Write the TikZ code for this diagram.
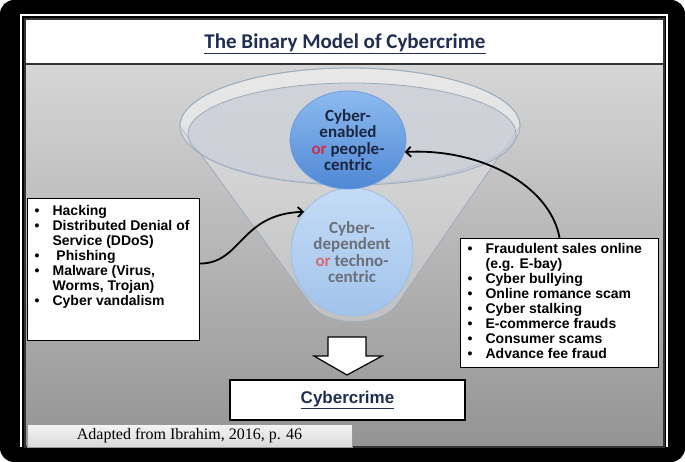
\documentclass[tikz,border=0pt]{standalone}
\usepackage{fontspec}
\setmainfont{Liberation Sans}
\newfontfamily\calibrifont{Carlito}
\newfontfamily\timesfont{Liberation Serif}
\usetikzlibrary{arrows.meta,shapes.geometric}

\definecolor{titleblue}{HTML}{1F2F52}
\definecolor{textnavy}{HTML}{1B2640}
\definecolor{textgrey}{HTML}{6A6F78}
\definecolor{orred}{HTML}{C8324E}
\definecolor{orpink}{HTML}{D46A7A}
\definecolor{funnelline}{HTML}{9AACBF}
\definecolor{openfill}{HTML}{C6CAD4}
\definecolor{deeptop}{HTML}{8DBBEF}
\definecolor{deepbottom}{HTML}{4F88D5}
\definecolor{deepline}{HTML}{6E9EDB}
\definecolor{palebtop}{HTML}{C4DCF6}
\definecolor{palebottom}{HTML}{A2C3EB}
\definecolor{paleline}{HTML}{9DBDE5}

\tikzset{
  listbox/.style={draw=black, line width=1.2pt, fill=white, inner xsep=7pt, anchor=north west,
    font=\bfseries\fontsize{14}{15}\selectfont},
  bubble/.style={ellipse, inner sep=0pt, align=center, line width=0.8pt,
    font=\calibrifont\bfseries\fontsize{17}{16.5}\selectfont},
  curvearrow/.style={line width=1.8pt, -{Straight Barb[length=5pt,width=10pt]}},
  funnel/.style={draw=funnelline, line width=0.8pt, fill=white, fill opacity=0.28},
}

\begin{document}
\begin{tikzpicture}[x=1pt,y=-1pt]
\useasboundingbox (0,0) rectangle (685,462);
% frame and panel
\fill[white] (0,0) rectangle (685,462);
\fill[black,rounded corners=14pt] (0,0) rectangle (685,462);
\fill[white] (25,19) rectangle (664,64);
\shade[top color=black!16, middle color=black!27, bottom color=black!42] (25,64) rectangle (664,447);
\draw[white,line width=1.5pt] (21,447) -- (21,15) -- (667,15) -- (667,447);
\draw[black!80,line width=2pt] (25,19) rectangle (664,447);
\draw[black!80,line width=2pt] (25,64) -- (664,64);
\node[font=\calibrifont\bfseries\fontsize{21}{24}\selectfont, text=titleblue] (title) at (345,44)
  {\underline{The Binary Model of Cybercrime}};

% funnel
\path[funnel] (180,126) -- (312,306) .. controls (330,327) and (378,327) .. (396,306) -- (520,126)
  arc[start angle=0, end angle=-180, x radius=170, y radius=58];
\draw[funnel] (350,126) ellipse [x radius=170, y radius=58];
\draw[draw=funnelline, line width=0.8pt, fill=openfill, fill opacity=0.7] (352,134) ellipse [x radius=164, y radius=51];

% the two kinds
\node[bubble, minimum width=122pt, minimum height=128pt, top color=palebtop, bottom color=palebottom,
  draw=paleline, text=textgrey] (dependent) at (352,252)
  {Cyber-\\dependent\\{\color{orpink}or} techno-\\centric};
\node[bubble, minimum width=116pt, minimum height=98pt, top color=deeptop, bottom color=deepbottom,
  draw=deepline, text=textnavy] (enabled) at (348,140)
  {Cyber-\\enabled\\{\color{orred}or} people-\\centric};

% lists
\node[listbox, inner ysep=6pt] (techbox) at (27,198) {\parbox[c][130pt][t]{158pt}{%
  \begin{tabular}{@{}p{18pt}@{}l@{}}
  \textbullet & Hacking\\
  \textbullet & Distributed Denial of\\
              & Service (DDoS)\\
  \textbullet & \ Phishing\\
  \textbullet & Malware (Virus,\\
              & Worms, Trojan)\\
  \textbullet & Cyber vandalism
  \end{tabular}}};
\node[listbox, inner ysep=4.5pt] (peoplebox) at (460,238) {\parbox[c][120pt][t]{184pt}{%
  \begin{tabular}{@{}p{18pt}@{}l@{}}
  \textbullet & Fraudulent sales online\\
              & (e.g. E-bay)\\
  \textbullet & Cyber bullying\\
  \textbullet & Online romance scam\\
  \textbullet & Cyber stalking\\
  \textbullet & E-commerce frauds\\
  \textbullet & Consumer scams\\
  \textbullet & Advance fee fraud
  \end{tabular}}};

\draw[curvearrow] ([yshift=6pt]techbox.east) .. controls (242,263) and (240,214) .. (dependent.140);
\draw[curvearrow] (peoplebox.north) .. controls (550,185) and (480,148) .. (enabled.-12);

% result
\draw[fill=white, line width=1.2pt, line join=miter] (328,337) -- (366,337) -- (366,356) -- (382,356)
  -- (347,375) -- (314,356) -- (328,356) -- cycle;
\node[draw=black, line width=1.2pt, fill=white, minimum width=235pt, minimum height=40pt,
  font=\bfseries\fontsize{17}{20}\selectfont, text=titleblue] (crime) at (347.5,400) {\underline{Cybercrime}};
\node[draw=black!40, line width=0.6pt, top color=black!4, bottom color=black!15, minimum width=325pt,
  minimum height=23pt, font=\timesfont\fontsize{16}{18}\selectfont] (source) at (189.5,435.5)
  {Adapted from Ibrahim, 2016, p. 46};
\end{tikzpicture}
\end{document}
